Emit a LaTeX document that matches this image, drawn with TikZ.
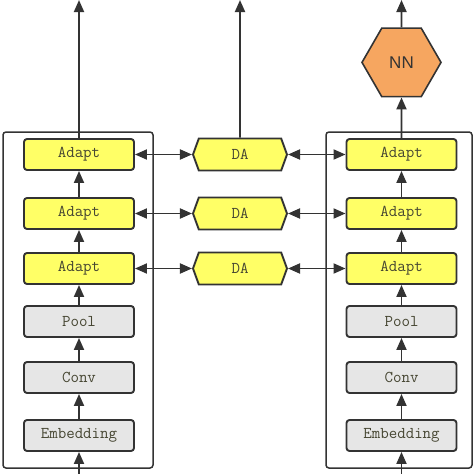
\documentclass[tikz,border=0pt]{standalone}
\usepackage{fontspec}
\usepackage{tikz}
\usetikzlibrary{shapes.geometric,shapes.symbols,arrows.meta}
\newfontfamily\nnfont{Liberation Sans}
\definecolor{lineclr}{RGB}{51,51,51}
\definecolor{adaptclr}{RGB}{255,255,102}
\definecolor{poolclr}{RGB}{230,230,230}
\definecolor{nnclr}{RGB}{246,166,96}
\definecolor{txtclr}{RGB}{70,70,50}
\tikzset{
  box/.style={draw=lineclr, line width=1.9pt, rounded corners=3pt, minimum width=110pt,
    minimum height=31pt, inner sep=0pt, font=\fontsize{16.5}{18}\selectfont\ttfamily, text=txtclr},
  adaptbox/.style={box, fill=adaptclr},
  graybox/.style={box, fill=poolclr},
  dabox/.style={draw=lineclr, line width=1.9pt, fill=adaptclr, signal, signal to=west and east,
    signal pointer angle=140, minimum width=94pt, minimum height=32pt, inner sep=0pt,
    font=\fontsize{16.5}{18}\selectfont\ttfamily, text=txtclr},
  nnbox/.style={draw=lineclr, line width=1.6pt, fill=nnclr, regular polygon, regular polygon sides=6,
    minimum size=79pt, inner sep=0pt, font=\fontsize{17}{18}\selectfont\nnfont, text=lineclr},
  colframe/.style={draw=lineclr, line width=1.5pt, rounded corners=3pt},
  flow/.style={draw=lineclr, line width=1.9pt, -{Triangle[length=12pt,width=10pt]}},
  link/.style={draw=lineclr, line width=1.9pt, {Triangle[length=12pt,width=10pt]}-{Triangle[length=12pt,width=10pt]}},
}
\begin{document}
\begin{tikzpicture}[x=1pt,y=-1pt]
        \useasboundingbox (0,0) rectangle (474,474);
        % column frames
        \draw[colframe] (3,132) rectangle (153,468);
        \draw[colframe] (326,132) rectangle (472,468);
        % left column
        \node[graybox] (lemb) at (79,435.5) {Embedding};
        \node[graybox] (lconv) at (79,377.5) {Conv};
        \node[graybox] (lpool) at (79,321.5) {Pool};
        \node[adaptbox] (lad3) at (79,268.5) {Adapt};
        \node[adaptbox] (lad2) at (79,213.5) {Adapt};
        \node[adaptbox] (lad1) at (79,154.5) {Adapt};
        % right column
        \node[graybox] (remb) at (401.5,435.5) {Embedding};
        \node[graybox] (rconv) at (401.5,377.5) {Conv};
        \node[graybox] (rpool) at (401.5,321.5) {Pool};
        \node[adaptbox] (rad3) at (401.5,268.5) {Adapt};
        \node[adaptbox] (rad2) at (401.5,213.5) {Adapt};
        \node[adaptbox] (rad1) at (401.5,154.5) {Adapt};
        \node[nnbox] (nn) at (401.5,62.4) {NN};
        % middle column
        \node[dabox] (da3) at (240,268.5) {DA};
        \node[dabox] (da2) at (240,213.5) {DA};
        \node[dabox] (da1) at (240,154.5) {DA};
        % loose ends
        \coordinate (lin) at (79,474);
        \coordinate (rin) at (401.5,474);
        \coordinate (lout) at (79,0);
        \coordinate (mout) at (240,0);
        \coordinate (rout) at (401.5,0);
        % vertical flow
        \draw[flow] (lin) -- (lemb);
        \draw[flow] (lemb) -- (lconv);
        \draw[flow] (lconv) -- (lpool);
        \draw[flow] (lpool) -- (lad3);
        \draw[flow] (lad3) -- (lad2);
        \draw[flow] (lad2) -- (lad1);
        \draw[flow] (lad1) -- (lout);
        \draw[flow] (rin) -- (remb);
        \draw[flow] (remb) -- (rconv);
        \draw[flow] (rconv) -- (rpool);
        \draw[flow] (rpool) -- (rad3);
        \draw[flow] (rad3) -- (rad2);
        \draw[flow] (rad2) -- (rad1);
        \draw[flow] (rad1) -- (nn);
        \draw[flow] (nn) -- (rout);
        \draw[flow] (da1) -- (mout);
        % links to DA
        \foreach \i in {1,2,3} {
            \draw[link] (lad\i.east) -- (da\i.west);
            \draw[link] (da\i.east) -- (rad\i.west);
        }
    \end{tikzpicture}
\end{document}
